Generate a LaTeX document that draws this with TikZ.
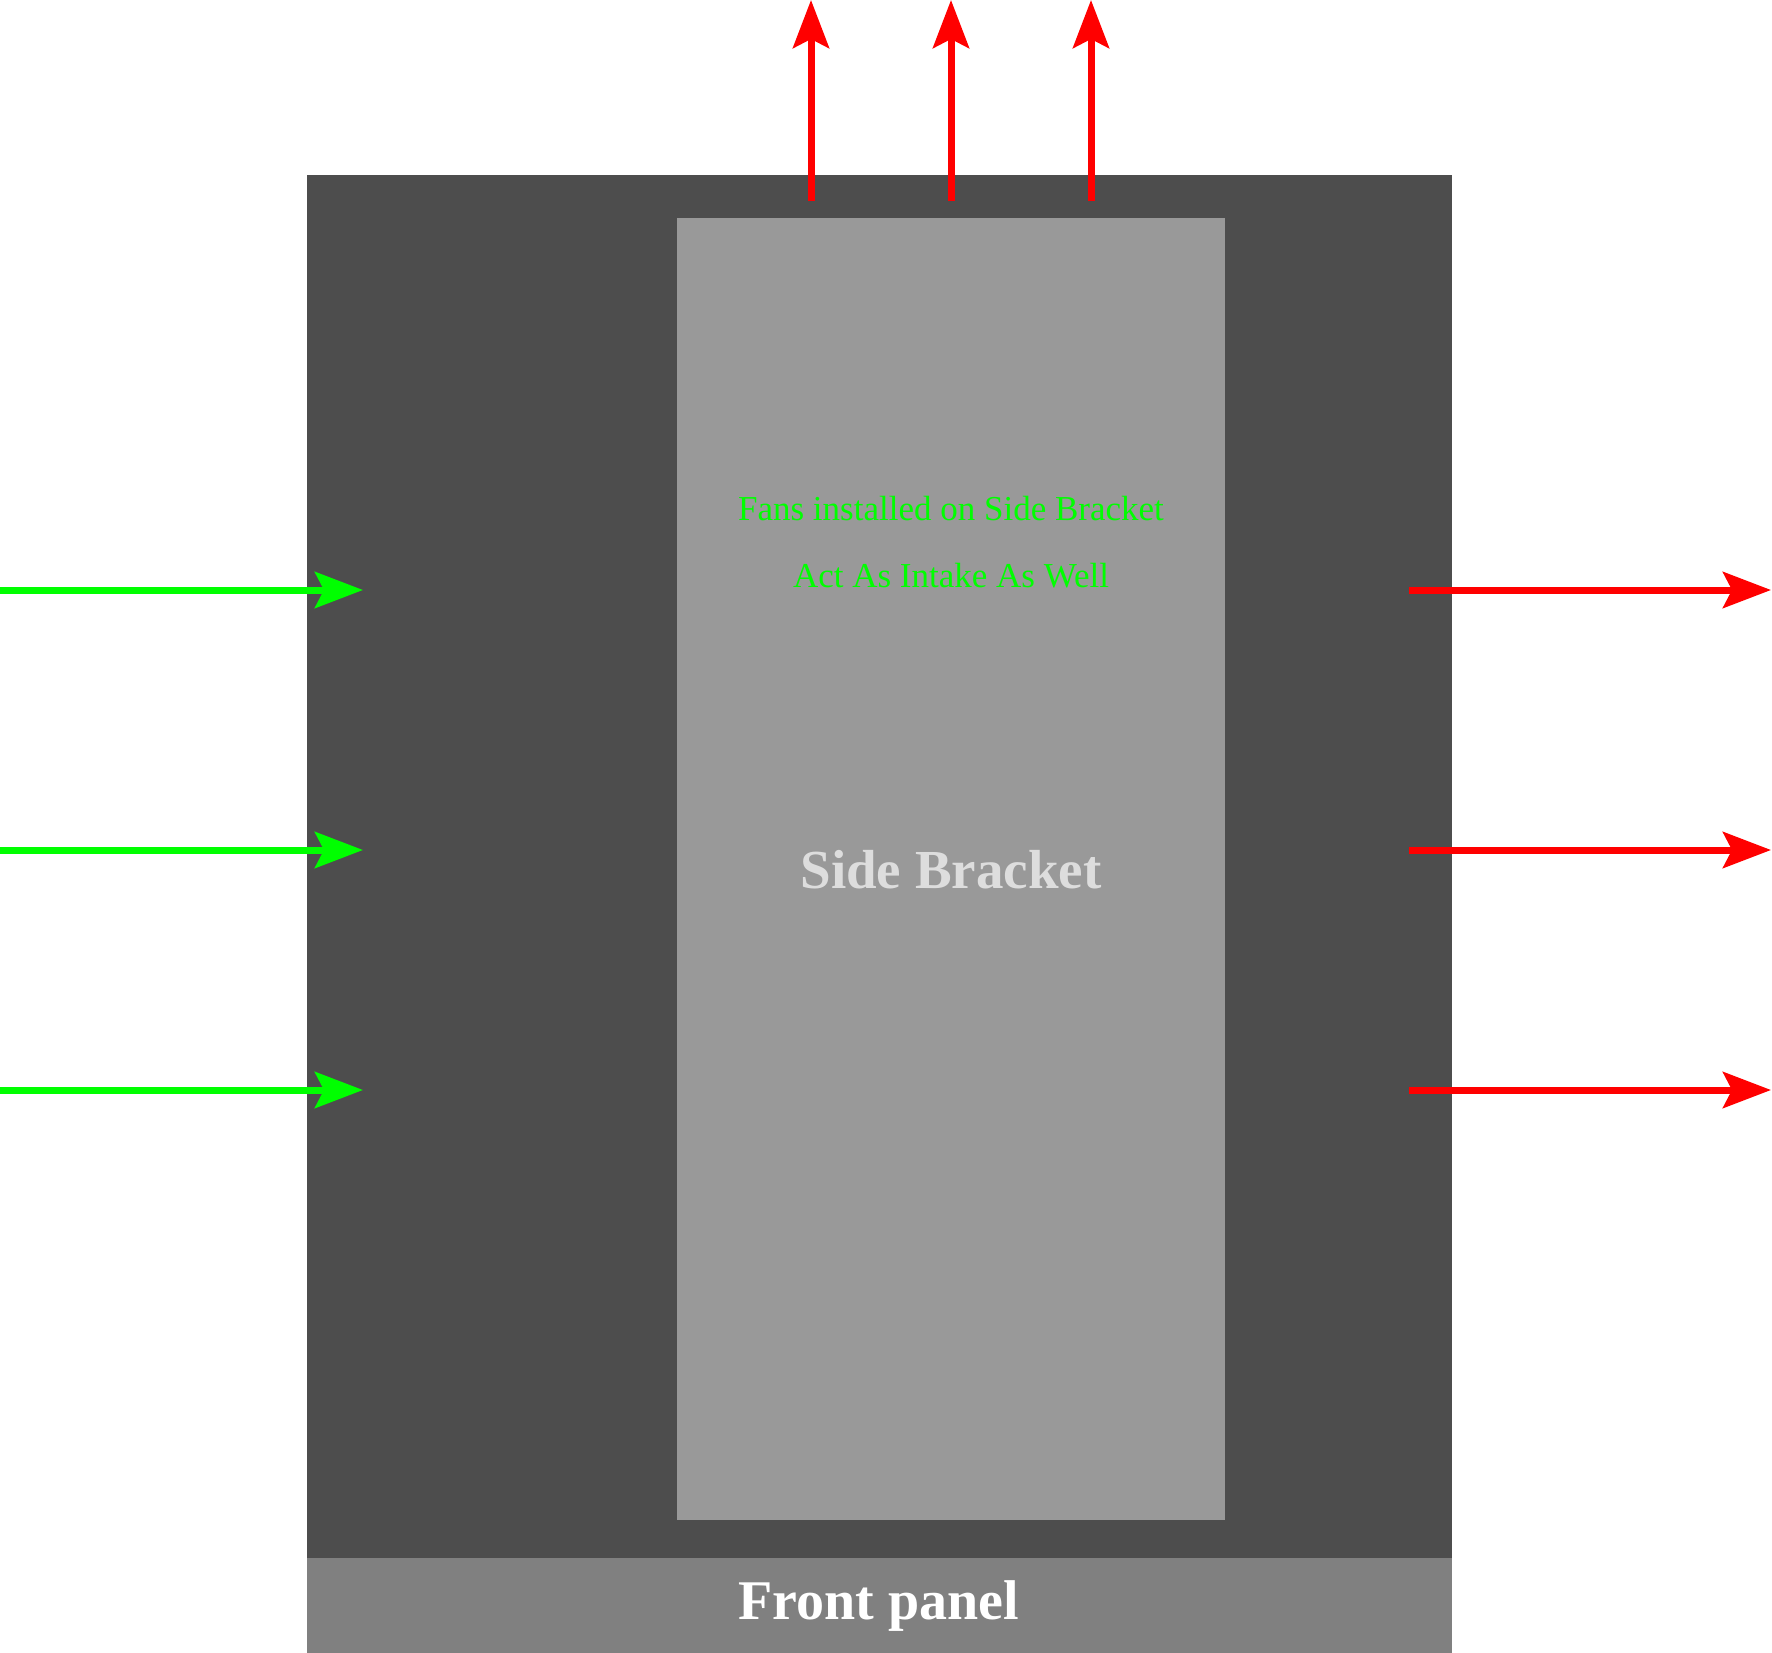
\documentclass[tikz,border=0pt]{standalone}
\usepackage{fontspec}
\setmainfont{Liberation Serif}
\usetikzlibrary{arrows.meta}
\definecolor{casegray}{HTML}{4D4D4D}
\definecolor{bracketgray}{HTML}{999999}
\definecolor{panelgray}{HTML}{808080}
\definecolor{labelgray}{HTML}{DDDDDD}
\definecolor{airgreen}{HTML}{00FF00}
\definecolor{airred}{HTML}{FF0000}
\tikzset{
  block/.style={anchor=north west, inner sep=0pt, outer sep=0pt, draw=none},
  flow/.style={line width=7pt, -{Stealth[length=48pt,width=36pt,inset=9pt]}},
  intake/.style={flow, draw=airgreen},
  exhaust/.style={flow, draw=airred},
  note/.style={anchor=base, text=airgreen, font=\fontsize{35}{42}\selectfont, inner sep=0pt},
  biglabel/.style={anchor=base, font=\fontsize{55}{66}\selectfont\bfseries, inner sep=0pt}
}
\begin{document}
\begin{tikzpicture}[x=1pt,y=-1pt]
\useasboundingbox (0,0) rectangle (1772,1653);
\node[block, fill=casegray, minimum width=1145pt, minimum height=1383pt] (case) at (307,175) {};
\node[block, fill=panelgray, minimum width=1145pt, minimum height=95pt] (front) at (307,1558) {};
\node[block, fill=bracketgray, minimum width=548pt, minimum height=1302pt] (bracket) at (677,218) {};
\node[note] (fans) at (951,520) {Fans installed on Side Bracket};
\node[note] (act) at (951,587) {Act As Intake As Well};
\node[biglabel, text=labelgray] (sidelbl) at (951,888) {Side Bracket};
\node[biglabel, text=white, font=\fontsize{56}{67}\selectfont\bfseries] (frontlbl) at (879,1619) {Front panel};
% intake arrows
\coordinate (gs1) at (0,590);    \coordinate (ge1) at (363,590);
\coordinate (gs2) at (0,850);    \coordinate (ge2) at (363,850);
\coordinate (gs3) at (0,1090);   \coordinate (ge3) at (363,1090);
\draw[intake] (gs1) -- (ge1);
\draw[intake] (gs2) -- (ge2);
\draw[intake] (gs3) -- (ge3);
% side exhaust arrows
\coordinate (rs1) at (1409,590);  \coordinate (re1) at (1771,590);
\coordinate (rs2) at (1409,850);  \coordinate (re2) at (1771,850);
\coordinate (rs3) at (1409,1090); \coordinate (re3) at (1771,1090);
\draw[exhaust] (rs1) -- (re1);
\draw[exhaust] (rs2) -- (re2);
\draw[exhaust] (rs3) -- (re3);
% top exhaust arrows
\coordinate (us1) at (811,201);  \coordinate (ue1) at (811,0);
\coordinate (us2) at (951,201);  \coordinate (ue2) at (951,0);
\coordinate (us3) at (1091,201); \coordinate (ue3) at (1091,0);
\draw[exhaust] (us1) -- (ue1);
\draw[exhaust] (us2) -- (ue2);
\draw[exhaust] (us3) -- (ue3);
\end{tikzpicture}
\end{document}
